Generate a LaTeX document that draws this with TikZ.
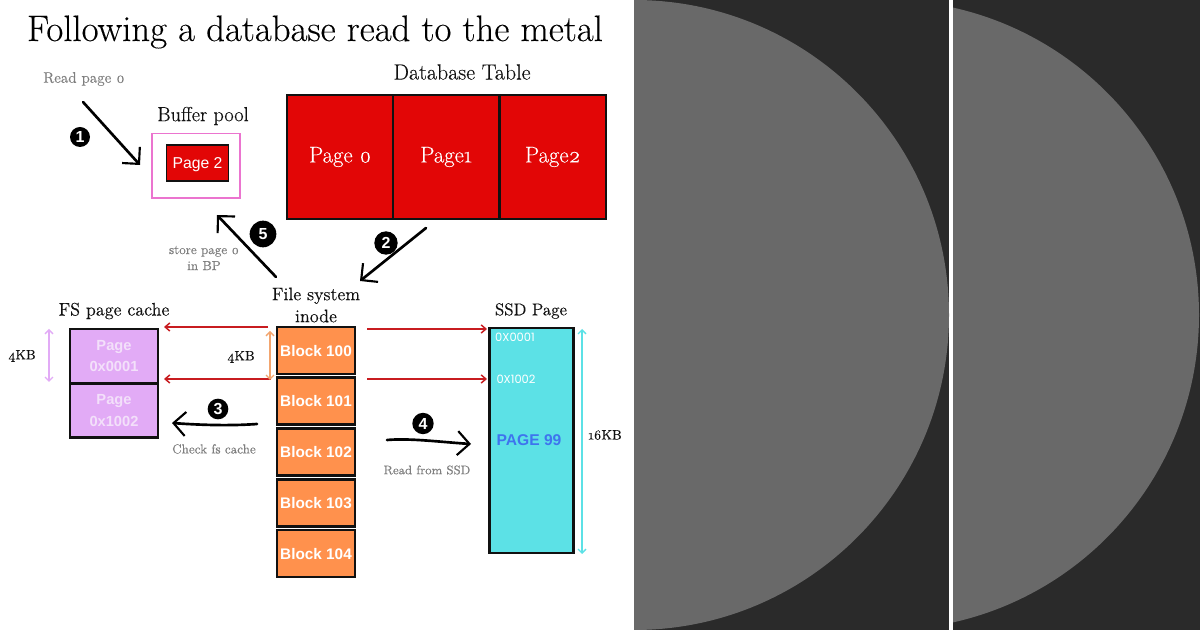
\documentclass[tikz,border=0pt]{standalone}
\usepackage{fontspec}
\setmainfont{Latin Modern Roman}[Numbers=OldStyle,FakeBold=0.25]
\newfontfamily\sans{Liberation Sans}
\newfontfamily\geo{Poppins}
\usetikzlibrary{arrows.meta}
\definecolor{dbred}{HTML}{E20606}
\definecolor{ink}{HTML}{111111}
\definecolor{muted}{HTML}{7F7F7F}
\definecolor{lilac}{HTML}{E2ABF6}
\definecolor{lilactext}{HTML}{F3E0FA}
\definecolor{blockorange}{HTML}{FF914D}
\definecolor{ssdcyan}{HTML}{5CE1E6}
\definecolor{pagepink}{HTML}{EB74CF}
\definecolor{arrowred}{HTML}{C81C20}
\definecolor{dimorange}{HTML}{F2A56F}
\definecolor{pagebluetxt}{HTML}{3E74EE}
\definecolor{paneldark}{HTML}{2A2A2A}
\definecolor{panelgray}{HTML}{696969}
\tikzset{
  x=0.75pt,y=-0.75pt,
  box/.style={draw=ink,line width=2pt,inner sep=0pt,outer sep=0pt,anchor=north west},
  tablepage/.style={box,fill=dbred,text=white,font=\fontsize{17}{19}\selectfont,minimum height=93pt,minimum width=79.8pt},
  blockbox/.style={box,fill=blockorange,text=white,font=\sans\bfseries\fontsize{11.5}{13}\selectfont,minimum width=58.5pt,minimum height=35.3pt},
  cachebox/.style={box,fill=lilac,text=lilactext,font=\sans\bfseries\fontsize{11}{16}\selectfont,align=center,minimum width=66pt,minimum height=40.6pt},
  lab/.style={text=ink,font=\fontsize{13.6}{16.5}\selectfont,align=center,inner sep=0pt},
  note/.style={text=muted,font=\fontsize{9.8}{12}\selectfont,align=center,inner sep=0pt},
  dim/.style={inner sep=0pt,text=ink,font=\fontsize{10.2}{12}\selectfont},
  addr/.style={inner sep=0pt,text=white,font=\geo\fontsize{8.6}{10}\selectfont},
  hand/.style={line width=2pt,draw=black,line cap=round,-{Straight Barb[length=9pt,width=18pt,line width=1.6pt]}},
  redarrow/.style={line width=1.1pt,draw=arrowred,-{Straight Barb[length=3.5pt,width=6pt,line width=1.1pt]}},
  dimarrow/.style={line width=1pt,{Straight Barb[length=3pt,width=6pt]}-{Straight Barb[length=3pt,width=6pt]}},
  badge/.style={circle,fill=black,text=white,inner sep=0pt,font=\sans\bfseries\fontsize{12}{12}\selectfont},
}
\begin{document}
\begin{tikzpicture}
\useasboundingbox (0,0) rectangle (1200,630);
\fill[white] (0,0) rectangle (1200,630);
% right panels
\begin{scope}
 \clip (634,0) rectangle (949,630);
 \fill[paneldark] (634,0) rectangle (949,630);
 \fill[panelgray] (634,315) circle[radius=315];
\end{scope}
\begin{scope}
 \clip (953,0) rectangle (1200,630);
 \fill[paneldark] (953,0) rectangle (1200,630);
 \fill[panelgray] (884,315) circle[radius=315];
\end{scope}
% title
\node[inner sep=0pt,font=\fontsize{27.6}{30}\selectfont,text=black] (title) at (315,32) {Following a database read to the metal};
% table
\node[lab,font=\fontsize{16.5}{19}\selectfont] (dbtitle) at (462,72) {Database Table};
\node[tablepage] (p0) at (287,95) {Page 0};
\node[tablepage] (p1) at (393,95) {Page1};
\node[tablepage] (p2) at (499.5,95) {Page2};
% buffer pool
\node[note,font=\fontsize{11.4}{13}\selectfont] (readnote) at (84,79) {Read page 0};
\node[lab,font=\fontsize{15.3}{17}\selectfont] (bptitle) at (203,116) {Buffer pool};
\node[draw=pagepink,line width=1.4pt,minimum width=66pt,minimum height=48.5pt,inner sep=0pt,outer sep=0pt,anchor=north west] (bp) at (152,133.5) {};
\node[box,line width=1.3pt,fill=dbred,text=white,font=\sans\fontsize{11.8}{13}\selectfont,text height=8pt,text depth=0pt,minimum width=46.5pt,minimum height=27pt] (bpp) at (166.5,145) {Page 2};
% blocks
\node[lab] (inode) at (316,305) {File system\\inode};
\node[blockbox] (b0) at (277,327) {Block 100};
\node[blockbox] (b1) at (277,377.5) {Block 101};
\node[blockbox] (b2) at (277,428.5) {Block 102};
\node[blockbox] (b3) at (277,479.5) {Block 103};
\node[blockbox] (b4) at (277,530) {Block 104};
% cache
\node[lab] (fstitle) at (114,311) {FS page cache};
\node[cachebox] (c0) at (70,329) {Page\\0x0001};
\node[cachebox] (c1) at (70,383.5) {Page\\0x1002};
% ssd
\node[lab,font=\fontsize{12.8}{15}\selectfont] (ssdtitle) at (531,311) {SSD Page};
\node[box,fill=ssdcyan,minimum width=63pt,minimum height=168.8pt] (ssd) at (489.5,328) {};
\node[addr] (ad1) at (515,337.5) {0X0001};
\node[addr] (ad2) at (516,379) {0X1002};
\node[inner sep=0pt,text=pagebluetxt,font=\sans\bfseries\fontsize{11.7}{13}\selectfont] (p99) at (529,440) {PAGE 99};
% labels
\node[note] (storenote) at (204,258) {store page 0\\in BP};
\node[note] (checknote) at (214,449) {Check fs cache};
\node[note,font=\fontsize{9.3}{12}\selectfont] (ssdnote) at (427,470) {Read from SSD};
\node[dim] (kb1) at (22,356) {4KB};
\node[dim] (kb2) at (241,357) {4KB};
\node[dim] (kb3) at (605,435) {16KB};
% coordinates
\coordinate (a1s) at (83,102); \coordinate (a1e) at (140,165);
\coordinate (a5s) at (276,277); \coordinate (a5e) at (217,215);
\coordinate (a2s) at (426,228); \coordinate (a2e) at (360,281);
\coordinate (a3s) at (257,424); \coordinate (a3e) at (172,423);
\coordinate (a4s) at (387,440); \coordinate (a4e) at (471,444);
\draw[hand] (a1s) -- (a1e);
\draw[hand] (a5s) -- (a5e);
\draw[hand] (a2s) -- (a2e);
\draw[hand] (a3s) .. controls (230,426) and (200,425) .. (a3e);
\draw[hand] (a4s) .. controls (410,438) and (440,442) .. (a4e);
\node[badge,minimum size=15pt] (n1) at (80,137) {1};
\node[badge,minimum size=20pt] (n5) at (263,234) {5};
\node[badge,minimum size=17.5pt] (n2) at (386,243) {2};
\node[badge,minimum size=15.5pt] (n3) at (218,409) {3};
\node[badge,minimum size=16pt] (n4) at (423,423.5) {4};
% red arrows
\coordinate (r1s) at (268,327); \coordinate (r1e) at (164,327);
\coordinate (r2s) at (271,379); \coordinate (r2e) at (164,379);
\coordinate (r3s) at (367,329); \coordinate (r3e) at (487,329);
\coordinate (r4s) at (367,379); \coordinate (r4e) at (487,379);
\draw[redarrow] (r1s) -- (r1e);
\draw[redarrow] (r2s) -- (r2e);
\draw[redarrow] (r3s) -- (r3e);
\draw[redarrow] (r4s) -- (r4e);
% dimensions
\coordinate (d1s) at (49,329); \coordinate (d1e) at (49,382);
\coordinate (d2s) at (270,331); \coordinate (d2e) at (270,380);
\coordinate (d3s) at (582,329); \coordinate (d3e) at (582,554);
\draw[dimarrow,draw=lilac] (d1s) -- (d1e);
\draw[dimarrow,draw=dimorange] (d2s) -- (d2e);
\draw[dimarrow,draw=ssdcyan] (d3s) -- (d3e);
\end{tikzpicture}
\end{document}
